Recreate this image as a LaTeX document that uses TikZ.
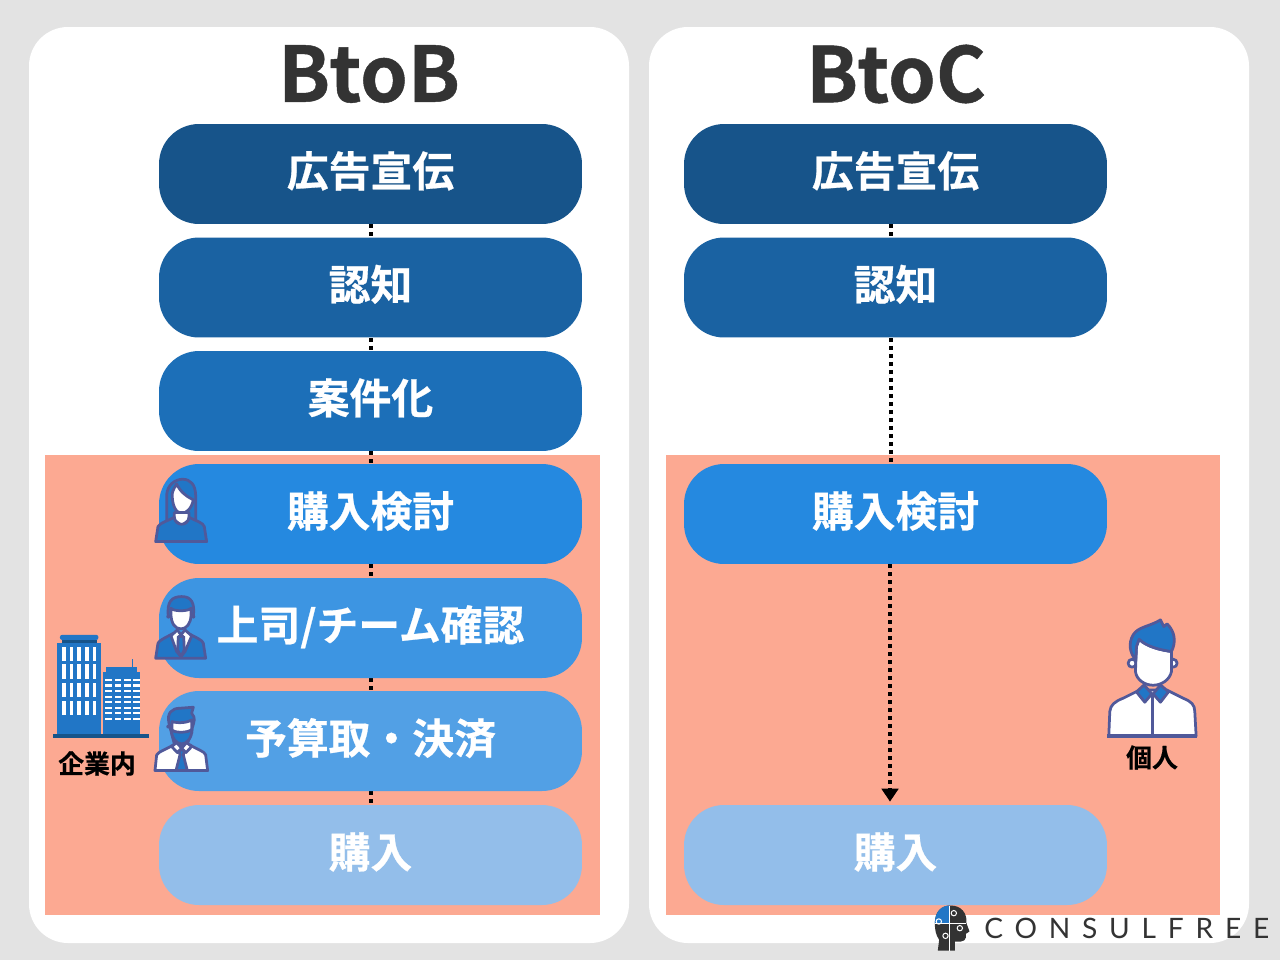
\documentclass[tikz,border=0pt]{standalone}
\usepackage{fontspec}
\setmainfont{Noto Sans CJK JP}[BoldFont={Noto Sans CJK JP Bold},BoldFeatures={FakeBold=0.6}]
\newfontfamily\logofont{Lato}[LetterSpace=42]
\usetikzlibrary{arrows.meta}
\definecolor{pagebg}{HTML}{E3E3E3}
\definecolor{salmon}{HTML}{FCA992}
\definecolor{boxa}{HTML}{17548A}
\definecolor{boxb}{HTML}{1A62A2}
\definecolor{boxc}{HTML}{1C6FB8}
\definecolor{boxd}{HTML}{2589E0}
\definecolor{boxe}{HTML}{3D95E2}
\definecolor{boxf}{HTML}{52A0E5}
\definecolor{boxg}{HTML}{93BEEA}
\definecolor{iconline}{HTML}{50599A}
\definecolor{iconblue}{HTML}{2176C6}
\definecolor{inkdark}{HTML}{333333}
\pgfdeclarelayer{bg}
\pgfdeclarelayer{conn}
\pgfsetlayers{bg,conn,main}
\tikzset{
  flow/.style={rounded corners=0.8cm,minimum width=8.46cm,minimum height=2cm,inner sep=0pt,text=white,font=\bfseries\fontsize{23.8}{26}\selectfont,text depth=0.2cm,anchor=center},
  title/.style={font=\bfseries\fontsize{43.5}{46}\selectfont,text=inkdark,inner sep=0pt},
  small/.style={font=\bfseries\fontsize{14.7}{16}\selectfont,text=black,inner sep=0pt},
  dots/.style={line width=0.08cm,dash pattern=on 0.08cm off 0.08cm,black},
  ic/.style={draw=iconline,line width=0.055cm,line join=round,fill=iconblue},
  icw/.style={draw=iconline,line width=0.055cm,line join=round,fill=white},
  zoomA/.style={shift={(0.8cm,-9.2cm)},x=0.006667cm,y=-0.006667cm},
  zoomB/.style={shift={(21.8cm,-12.2cm)},x=0.006667cm,y=-0.006667cm},
  zoomC/.style={shift={(18.4cm,-17.8cm)},x=0.006667cm,y=-0.006667cm},
}
\begin{document}
\begin{tikzpicture}[x=0.02cm,y=-0.02cm]
\useasboundingbox (0,0) rectangle (1280,960);
\begin{pgfonlayer}{bg}
\fill[pagebg] (0,0) rectangle (1280,960);
\fill[white,rounded corners=0.78cm] (29,27) rectangle (629,943);
\fill[white,rounded corners=0.78cm] (649,27) rectangle (1249,943);
\fill[salmon] (45,455) rectangle (600,915);
\fill[salmon] (666,455) rectangle (1220,915);
\end{pgfonlayer}
\node[title] (tb) at (369,74) {BtoB};
\node[title] (tc) at (896,74) {BtoC};
% left column
\node[flow,fill=boxa] (l1) at (370.5,174) {広告宣伝};
\node[flow,fill=boxb] (l2) at (370.5,287.5) {認知};
\node[flow,fill=boxc] (l3) at (370.5,401) {案件化};
\node[flow,fill=boxd] (l4) at (370.5,514) {購入検討};
\node[flow,fill=boxe] (l5) at (370.5,628) {上司/チーム確認};
\node[flow,fill=boxf] (l6) at (370.5,741) {予算取・決済};
\node[flow,fill=boxg] (l7) at (370.5,855) {購入};
% right column
\node[flow,fill=boxa] (r1) at (895.5,174) {広告宣伝};
\node[flow,fill=boxb] (r2) at (895.5,287.5) {認知};
\node[flow,fill=boxd] (r4) at (895.5,514) {購入検討};
\node[flow,fill=boxg] (r7) at (895.5,855) {購入};
\begin{pgfonlayer}{conn}
\draw[dots] (l1)--(l2);
\draw[dots] (l2)--(l3);
\draw[dots] (l3)--(l4);
\draw[dots] (l4)--(l5);
\draw[dots] (l5)--(l6);
\draw[dots] (l6)--(l7);
\draw[dots] ([xshift=-0.09cm]r1.south)--([xshift=-0.09cm]r2.north);
\draw[dots] ([xshift=-0.09cm]r2.south)--([xshift=-0.09cm]r4.north);
\end{pgfonlayer}
\draw[dots,shorten >=0.06cm,-{Triangle[width=0.33cm,length=0.26cm,black,sep=0pt]}] ([xshift=-0.11cm]r4.south)--([xshift=-0.11cm]r7.north);
\node[small] (corp) at (97,763.5) {企業内};
\node[small] (indiv) at (1152,757.5) {個人};
% icons, left
\begin{scope}[zoomA]
 % woman
 \path[ic] (380,182) -- (380,105) .. controls (382,75) and (405,58) .. (428,58) .. controls (452,58) and (466,75) .. (467,105) -- (467,185) -- cycle;
 \path[icw] (397,100) .. controls (400,88) and (405,80) .. (410,72) .. controls (420,95) and (440,110) .. (460,120) .. controls (455,145) and (440,160) .. (425,160) .. controls (408,160) and (395,135) .. (397,100) -- cycle;
 \path[icw] (403,158) -- (447,158) -- (447,180) -- (425,197) -- (403,180) -- cycle;
 \path[ic] (347,245) -- (354,200) .. controls (358,190) and (385,182) .. (403,172) .. controls (405,200) and (445,200) .. (447,172) .. controls (465,182) and (490,188) .. (493,200) -- (500,245) -- cycle;
 % man with suit
 \path[ic] (385,470) .. controls (380,425) and (395,410) .. (425,410) .. controls (455,410) and (465,430) .. (460,470) -- cycle;
 \fill[iconline] (385,470) circle (6) (460,470) circle (6);
 \path[icw] (393,462) -- (393,445) .. controls (400,455) and (445,455) .. (453,445) -- (453,465) .. controls (453,490) and (440,507) .. (423,507) .. controls (405,507) and (393,490) .. (393,462) -- cycle;
 \path[ic] (347,595) -- (354,550) .. controls (358,540) and (380,532) .. (400,520) -- (423,590) -- (445,520) .. controls (465,532) and (488,540) .. (490,550) -- (497,595) -- cycle;
 \path[icw] (393,528) -- (412,510) -- (423,525) -- (435,510) -- (455,528) -- (435,575) -- (423,590) -- (410,575) -- cycle;
 \path[ic] (415,530) -- (431,530) -- (433,570) -- (423,590) -- (413,570) -- cycle;
 % man with tie
 \path[ic] (387,790) .. controls (380,760) and (395,745) .. (420,745) -- (460,742) -- (455,760) .. controls (468,775) and (462,785) .. (458,800) -- (440,860) -- (405,860) -- cycle;
 \fill[iconline] (385,800) circle (6);
 \path[icw] (396,785) .. controls (410,790) and (440,790) .. (455,780) -- (455,820) -- (396,820) -- cycle;
 \path[ic] (394,808) .. controls (400,820) and (445,820) .. (456,808) .. controls (456,835) and (440,852) .. (425,852) .. controls (410,852) and (394,835) .. (394,808) -- cycle;
 \path[icw] (345,932) -- (350,885) .. controls (355,875) and (380,868) .. (400,855) -- (425,868) -- (450,855) .. controls (470,868) and (495,875) .. (497,885) -- (503,932) -- cycle;
 \path[ic] (416,870) -- (434,870) -- (430,885) -- (442,932) -- (408,932) -- (420,885) -- cycle;
 \path[icw] (395,860) -- (410,848) -- (425,865) -- (412,878) -- cycle;
 \path[icw] (455,860) -- (440,848) -- (425,865) -- (438,878) -- cycle;
 % buildings
 \fill[iconblue,rounded corners=0.04cm] (60,525) rectangle (175,540);
 \fill[boxa] (66,540) rectangle (170,548);
 \fill[iconblue] (52,548) rectangle (183,821);
 \foreach \wx in {66,89,112,135,158}
   \foreach \wy in {560,613,668,722}
     \fill[white] (\wx,\wy) rectangle ++(11,43);
 \fill[iconblue] (190,635) rectangle (300,821);
 \fill[iconblue] (198,622) rectangle (292,635);
 \fill[iconblue] (277,598) rectangle (279,622);
 \foreach \wx in {195,224,252,280}
   \foreach \wy in {657,673,690,707,723,740,756,773}
     \fill[white] (\wx,\wy) rectangle ++(20,7);
 \fill[boxa] (40,822) rectangle (326,834);
\end{scope}
% icon, right
\begin{scope}[zoomB]
 \path[icw] (127,160) circle (12);
 \path[icw] (250,160) circle (12);
 \path[icw] (57,378) -- (60,305) .. controls (62,285) and (75,275) .. (100,265) -- (150,240) -- (230,240) -- (280,265) .. controls (305,275) and (315,285) .. (315,305) -- (319,378) -- cycle;
 \path[icw] (140,110) -- (148,88) .. controls (170,110) and (210,120) .. (245,125) -- (245,185) .. controls (240,210) and (215,226) .. (190,226) .. controls (165,226) and (140,210) .. (137,185) -- cycle;
 \path[ic] (138,150) .. controls (120,130) and (115,100) .. (130,75) .. controls (145,50) and (180,50) .. (212,30) -- (222,50) -- (232,42) .. controls (255,65) and (260,95) .. (245,125) .. controls (210,120) and (170,110) .. (148,88) -- (140,110) -- cycle;
 \path[ic] (140,246) -- (163,225) -- (186,252) -- (165,277) -- cycle;
 \path[ic] (236,246) -- (212,225) -- (190,252) -- (212,277) -- cycle;
 \draw[iconline,line width=0.055cm] (187,252) -- (187,378);
 \draw[iconline,line width=0.07cm] (53,378) -- (322,378);
\end{scope}
% logo
\begin{scope}[zoomC]
 \fill[inkdark] (45,100) .. controls (45,65) and (65,47) .. (92,47) .. controls (125,47) and (142,70) .. (140,100) -- (149,125) -- (138,132) .. controls (140,150) and (135,158) .. (105,155) -- (105,182) -- (54,182) -- (58,150) .. controls (48,135) and (45,120) .. (45,100) -- cycle;
 \fill[iconblue] (45,100) .. controls (45,65) and (65,47) .. (90,47) -- (90,100) -- cycle;
 \draw[white,line width=0.02cm] (90,47) -- (90,182) (45,100) -- (140,100);
 \draw[white,line width=0.02cm] (57,95) circle (8) (102,70) circle (8) (120,115) circle (8) (77,138) circle (8);
\end{scope}
\node[inner sep=0pt,anchor=west,text=inkdark,font=\logofont\fontsize{16}{18}\selectfont] (logo) at (984,928) {CONSULFREE};
\end{tikzpicture}
\end{document}
